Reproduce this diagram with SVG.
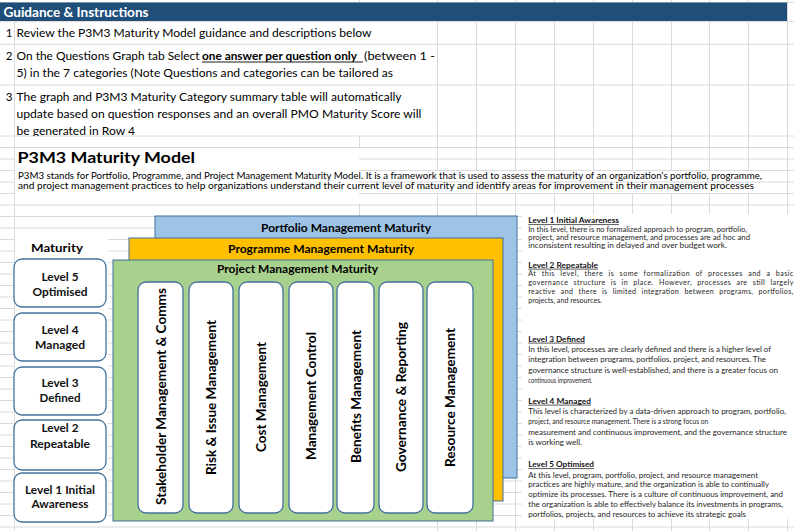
<svg xmlns="http://www.w3.org/2000/svg" width="794" height="531" viewBox="0 0 794 531">
<defs>
<style>
.t{font-family:Lato,"Open Sans",sans-serif;fill:#000}
.b{font-weight:bold}
.ins{font-size:11.5px}
.grid{stroke:#DADADA;stroke-width:1;fill:none}
.lvl{fill:#fff;stroke:#41719C;stroke-width:1.3}
.col{fill:#fff;stroke:#41719C;stroke-width:1.3}
.out{stroke:#41719C;stroke-width:1}
.lt{font-size:11.6px;font-weight:bold;text-anchor:middle;fill:#111}
.ot{font-size:11.2px;font-weight:bold;text-anchor:middle}
.vt{font-size:13px;font-weight:bold;text-anchor:middle}
.ph{font-size:7.6px;font-weight:bold;fill:#111}
.pt{font-size:7.1px;fill:#262626}
.js{word-spacing:3px}
.ul{stroke:#111;stroke-width:0.7}
</style>
<clipPath id="row3"><rect x="0" y="85" width="794" height="51"/></clipPath>
</defs>
<rect width="794" height="531" fill="#fff"/>
<g id="grid">
<path class="grid" d="M0 2.5H794M0 21.7H794M0 44.3H794M0 85H794M0 136H794
M0 147.5H794M0 159H794M0 170.5H794M0 182H794M0 193.5H794M0 205H794M0 216.5H794M0 228H794M0 239.5H794M0 251H794M0 262.5H794M0 274H794M0 285.5H794M0 297H794M0 308.5H794M0 320H794M0 331.5H794M0 343H794M0 354.5H794M0 366H794M0 377.5H794M0 389H794M0 400.5H794M0 412H794M0 423.5H794M0 435H794M0 446.5H794M0 458H794M0 469.5H794M0 481H794M0 492.5H794M0 504H794M0 515.5H794M0 527H794"/>
<rect x="15" y="148" width="344" height="56" fill="#fff"/>
<path class="grid" d="M14.5 21V531M359.5 0V3M359.5 136V148M359.5 204V216
M437.5 0V171M437.5 193V531M476.5 0V171M476.5 193V531M515.5 0V171M515.5 193V531M554.5 0V171M554.5 193V531M593.5 0V171M593.5 193V531M632.5 0V171M632.5 193V531M671.5 0V171M671.5 193V531M709.5 0V171M709.5 193V531M748.5 0V171M748.5 193V531M787.5 0V531"/>
<rect x="15" y="237" width="93" height="288" fill="#fff"/>
<rect x="522" y="214" width="272" height="305" fill="#fff"/>
</g>
<g id="header">
<rect x="0" y="2.5" width="787" height="18.5" fill="#1F4E79"/>
<text class="t b" x="3.5" y="17.3" font-size="12.8" style="fill:#fff" textLength="145" lengthAdjust="spacingAndGlyphs">Guidance &amp; Instructions</text>
</g>
<g id="instructions">
<text class="t ins" x="12.5" y="37" text-anchor="end">1</text>
<text class="t ins" x="16.5" y="37" textLength="355" lengthAdjust="spacingAndGlyphs">Review the P3M3 Maturity Model guidance and descriptions below</text>
<text class="t ins" x="12.5" y="59.5" text-anchor="end">2</text>
<text class="t ins" x="16.5" y="59.5" textLength="183" lengthAdjust="spacingAndGlyphs">On the Questions Graph tab Select</text>
<text class="t ins b" x="202" y="59.5" textLength="155" lengthAdjust="spacingAndGlyphs">one answer per question only</text>
<line x1="202" y1="62" x2="363" y2="62" style="stroke:#000;stroke-width:0.9"/>
<text class="t ins" x="364" y="59.5" textLength="71" lengthAdjust="spacingAndGlyphs">(between 1 -</text>
<text class="t ins" x="16.5" y="76.5" textLength="376.5" lengthAdjust="spacingAndGlyphs">5) in the 7 categories (Note Questions and categories can be tailored as</text>
<text class="t ins" x="12.5" y="100.5" text-anchor="end">3</text>
<text class="t ins" x="16.5" y="100.5" textLength="385" lengthAdjust="spacingAndGlyphs">The graph and P3M3 Maturity Category summary table will automatically</text>
<text class="t ins" x="16.5" y="117.5" textLength="405" lengthAdjust="spacingAndGlyphs">update based on question responses and an overall PMO Maturity Score will</text>
<text class="t ins" x="16.5" y="134.5" textLength="118.5" lengthAdjust="spacingAndGlyphs" clip-path="url(#row3)">be generated in Row 4</text>
</g>
<g id="intro">
<text class="t b" x="17.5" y="162.7" font-size="15.6" textLength="177.5" lengthAdjust="spacingAndGlyphs">P3M3 Maturity Model</text>
<text class="t" x="18" y="179" font-size="8.8" textLength="744" lengthAdjust="spacingAndGlyphs">P3M3 stands for Portfolio, Programme, and Project Management Maturity Model. It is a framework that is used to assess the maturity of an organization's portfolio, programme,</text>
<text class="t" x="18" y="189" font-size="8.8" textLength="736" lengthAdjust="spacingAndGlyphs">and project management practices to help organizations understand their current level of maturity and identify areas for improvement in their management processes</text>
</g>
<g id="maturity-title">
<text class="t b" x="57" y="252" font-size="12.2" text-anchor="middle" textLength="52" lengthAdjust="spacingAndGlyphs">Maturity</text>
</g>
<g id="level5">
<rect class="lvl" x="14" y="259" width="92" height="48" rx="8"/>
<text class="t lt" x="60" y="280.5" textLength="37" lengthAdjust="spacingAndGlyphs">Level 5</text>
<text class="t lt" x="60" y="295.5" textLength="55" lengthAdjust="spacingAndGlyphs">Optimised</text>
</g>
<g id="level4">
<rect class="lvl" x="14" y="313" width="92" height="48" rx="8"/>
<text class="t lt" x="60" y="334" textLength="37" lengthAdjust="spacingAndGlyphs">Level 4</text>
<text class="t lt" x="60" y="349" textLength="50" lengthAdjust="spacingAndGlyphs">Managed</text>
</g>
<g id="level3">
<rect class="lvl" x="14" y="367" width="92" height="48" rx="8"/>
<text class="t lt" x="60" y="387" textLength="37" lengthAdjust="spacingAndGlyphs">Level 3</text>
<text class="t lt" x="60" y="402" textLength="41" lengthAdjust="spacingAndGlyphs">Defined</text>
</g>
<g id="level2">
<rect class="lvl" x="14" y="420" width="92" height="50" rx="8"/>
<text class="t lt" x="60" y="432" textLength="37" lengthAdjust="spacingAndGlyphs">Level 2</text>
<text class="t lt" x="60" y="447.5" textLength="60" lengthAdjust="spacingAndGlyphs">Repeatable</text>
</g>
<g id="level1">
<rect class="lvl" x="14" y="473" width="92" height="49" rx="8"/>
<text class="t lt" x="60" y="493.5" textLength="70" lengthAdjust="spacingAndGlyphs">Level 1 Initial</text>
<text class="t lt" x="60" y="508" textLength="57" lengthAdjust="spacingAndGlyphs">Awareness</text>
</g>
<g id="portfolio">
<rect class="out" x="155" y="216" width="362" height="262" fill="#9DC3E6"/>
<text class="t ot" x="346" y="232.3" textLength="170" lengthAdjust="spacingAndGlyphs">Portfolio Management Maturity</text>
</g>
<g id="programme">
<rect class="out" x="129" y="238" width="374" height="263" fill="#FFC000"/>
<text class="t ot" x="321" y="253.3" textLength="186" lengthAdjust="spacingAndGlyphs">Programme Management Maturity</text>
</g>
<g id="project">
<rect class="out" x="113" y="260" width="380" height="261" fill="#A9D18E"/>
<text class="t ot" x="297.5" y="273" textLength="161" lengthAdjust="spacingAndGlyphs">Project Management Maturity</text>
</g>
<g id="cat-stakeholder">
<rect class="col" x="138" y="282" width="45" height="231" rx="8"/>
<text class="t vt" transform="translate(165.5,396.5) rotate(-90)" textLength="217" lengthAdjust="spacingAndGlyphs">Stakeholder Management &amp; Comms</text>
</g>
<g id="cat-risk">
<rect class="col" x="189" y="282" width="44" height="231" rx="8"/>
<text class="t vt" transform="translate(216,397.5) rotate(-90)" textLength="155" lengthAdjust="spacingAndGlyphs">Risk &amp; Issue Management</text>
</g>
<g id="cat-cost">
<rect class="col" x="239" y="282" width="44" height="231" rx="8"/>
<text class="t vt" transform="translate(266,397) rotate(-90)" textLength="110" lengthAdjust="spacingAndGlyphs">Cost Management</text>
</g>
<g id="cat-control">
<rect class="col" x="289" y="282" width="44" height="231" rx="8"/>
<text class="t vt" transform="translate(316,396) rotate(-90)" textLength="128" lengthAdjust="spacingAndGlyphs">Management Control</text>
</g>
<g id="cat-benefits">
<rect class="col" x="337" y="282" width="37" height="231" rx="8"/>
<text class="t vt" transform="translate(360.5,396.5) rotate(-90)" textLength="133" lengthAdjust="spacingAndGlyphs">Benefits Management</text>
</g>
<g id="cat-governance">
<rect class="col" x="379" y="282" width="44" height="231" rx="8"/>
<text class="t vt" transform="translate(406,397) rotate(-90)" textLength="150" lengthAdjust="spacingAndGlyphs">Governance &amp; Reporting</text>
</g>
<g id="cat-resource">
<rect class="col" x="427" y="282" width="46" height="231" rx="8"/>
<text class="t vt" transform="translate(455,397.5) rotate(-90)" textLength="139" lengthAdjust="spacingAndGlyphs">Resource Management</text>
</g>
<g id="descriptions">
<text class="t ph" x="528.3" y="223" textLength="90.7" lengthAdjust="spacingAndGlyphs">Level 1 Initial Awareness</text>
<line class="ul" x1="528.3" y1="224.6" x2="619" y2="224.6"/>
<text class="t pt" x="528.3" y="232" textLength="218.7" lengthAdjust="spacingAndGlyphs">In this level, there is no formalized approach to program, portfolio,</text>
<text class="t pt" x="528.3" y="240" textLength="221.7" lengthAdjust="spacingAndGlyphs">project, and resource management, and processes are ad hoc and</text>
<text class="t pt" x="528.3" y="248" textLength="198.7" lengthAdjust="spacingAndGlyphs">inconsistent  resulting in delayed and over budget work.</text>

<text class="t ph" x="528.3" y="267.5" textLength="69.7" lengthAdjust="spacingAndGlyphs">Level 2 Repeatable</text>
<line class="ul" x1="528.3" y1="269.1" x2="598" y2="269.1"/>
<text class="t pt js" x="528.3" y="276" textLength="265" lengthAdjust="spacing">At this level, there is some formalization of processes and a basic</text>
<text class="t pt js" x="528.3" y="285" textLength="265" lengthAdjust="spacing">governance structure is in place. However, processes are still largely</text>
<text class="t pt js" x="528.3" y="293.5" textLength="265" lengthAdjust="spacing">reactive and there is limited integration between programs, portfolios,</text>
<text class="t pt" x="528.3" y="302.5" textLength="73.7" lengthAdjust="spacingAndGlyphs">projects, and resources.</text>

<text class="t ph" x="528.3" y="341.5" textLength="56.7" lengthAdjust="spacingAndGlyphs">Level 3 Defined</text>
<line class="ul" x1="528.3" y1="343.1" x2="585" y2="343.1"/>
<text class="t pt" x="528.3" y="352" textLength="242.7" lengthAdjust="spacingAndGlyphs">In this level, processes are clearly defined and there is a higher level of</text>
<text class="t pt" x="528.3" y="362" textLength="237.7" lengthAdjust="spacingAndGlyphs">integration between programs, portfolios, project, and resources. The</text>
<text class="t pt" x="528.3" y="372.5" textLength="249.7" lengthAdjust="spacingAndGlyphs">governance structure is well-established, and there is a greater focus on</text>
<text class="t pt" x="528.3" y="382.5" textLength="64" lengthAdjust="spacingAndGlyphs">continuous improvement.</text>

<text class="t ph" x="528.3" y="403.5" textLength="62.7" lengthAdjust="spacingAndGlyphs">Level 4 Managed</text>
<line class="ul" x1="528.3" y1="405.1" x2="591" y2="405.1"/>
<text class="t pt" x="528.3" y="414" textLength="257.7" lengthAdjust="spacingAndGlyphs">This level is characterized by a data-driven approach to program, portfolio,</text>
<text class="t pt" x="528.3" y="424" textLength="180" lengthAdjust="spacingAndGlyphs">project, and resource management. There is a strong focus on</text>
<text class="t pt" x="528.3" y="435" textLength="258.7" lengthAdjust="spacingAndGlyphs">measurement and continuous improvement, and the governance structure</text>
<text class="t pt" x="528.3" y="445" textLength="53.7" lengthAdjust="spacingAndGlyphs">is working well.</text>

<text class="t ph" x="528.3" y="467" textLength="65.7" lengthAdjust="spacingAndGlyphs">Level 5 Optimised</text>
<line class="ul" x1="528.3" y1="468.6" x2="594" y2="468.6"/>
<text class="t pt" x="528.3" y="477.5" textLength="229.7" lengthAdjust="spacingAndGlyphs">At this level, program, portfolio, project, and resource management</text>
<text class="t pt" x="528.3" y="487" textLength="240.7" lengthAdjust="spacingAndGlyphs">practices are highly mature, and the organization is able to continually</text>
<text class="t pt" x="528.3" y="497" textLength="254.7" lengthAdjust="spacingAndGlyphs">optimize its processes. There is a culture of continuous improvement, and</text>
<text class="t pt" x="528.3" y="507" textLength="254.7" lengthAdjust="spacingAndGlyphs">the organization is able to effectively balance its investments in programs,</text>
<text class="t pt" x="528.3" y="517" textLength="217.7" lengthAdjust="spacingAndGlyphs">portfolios, projects, and resources to achieve its strategic goals</text>
</g>
<g id="connectors"/>
</svg>
